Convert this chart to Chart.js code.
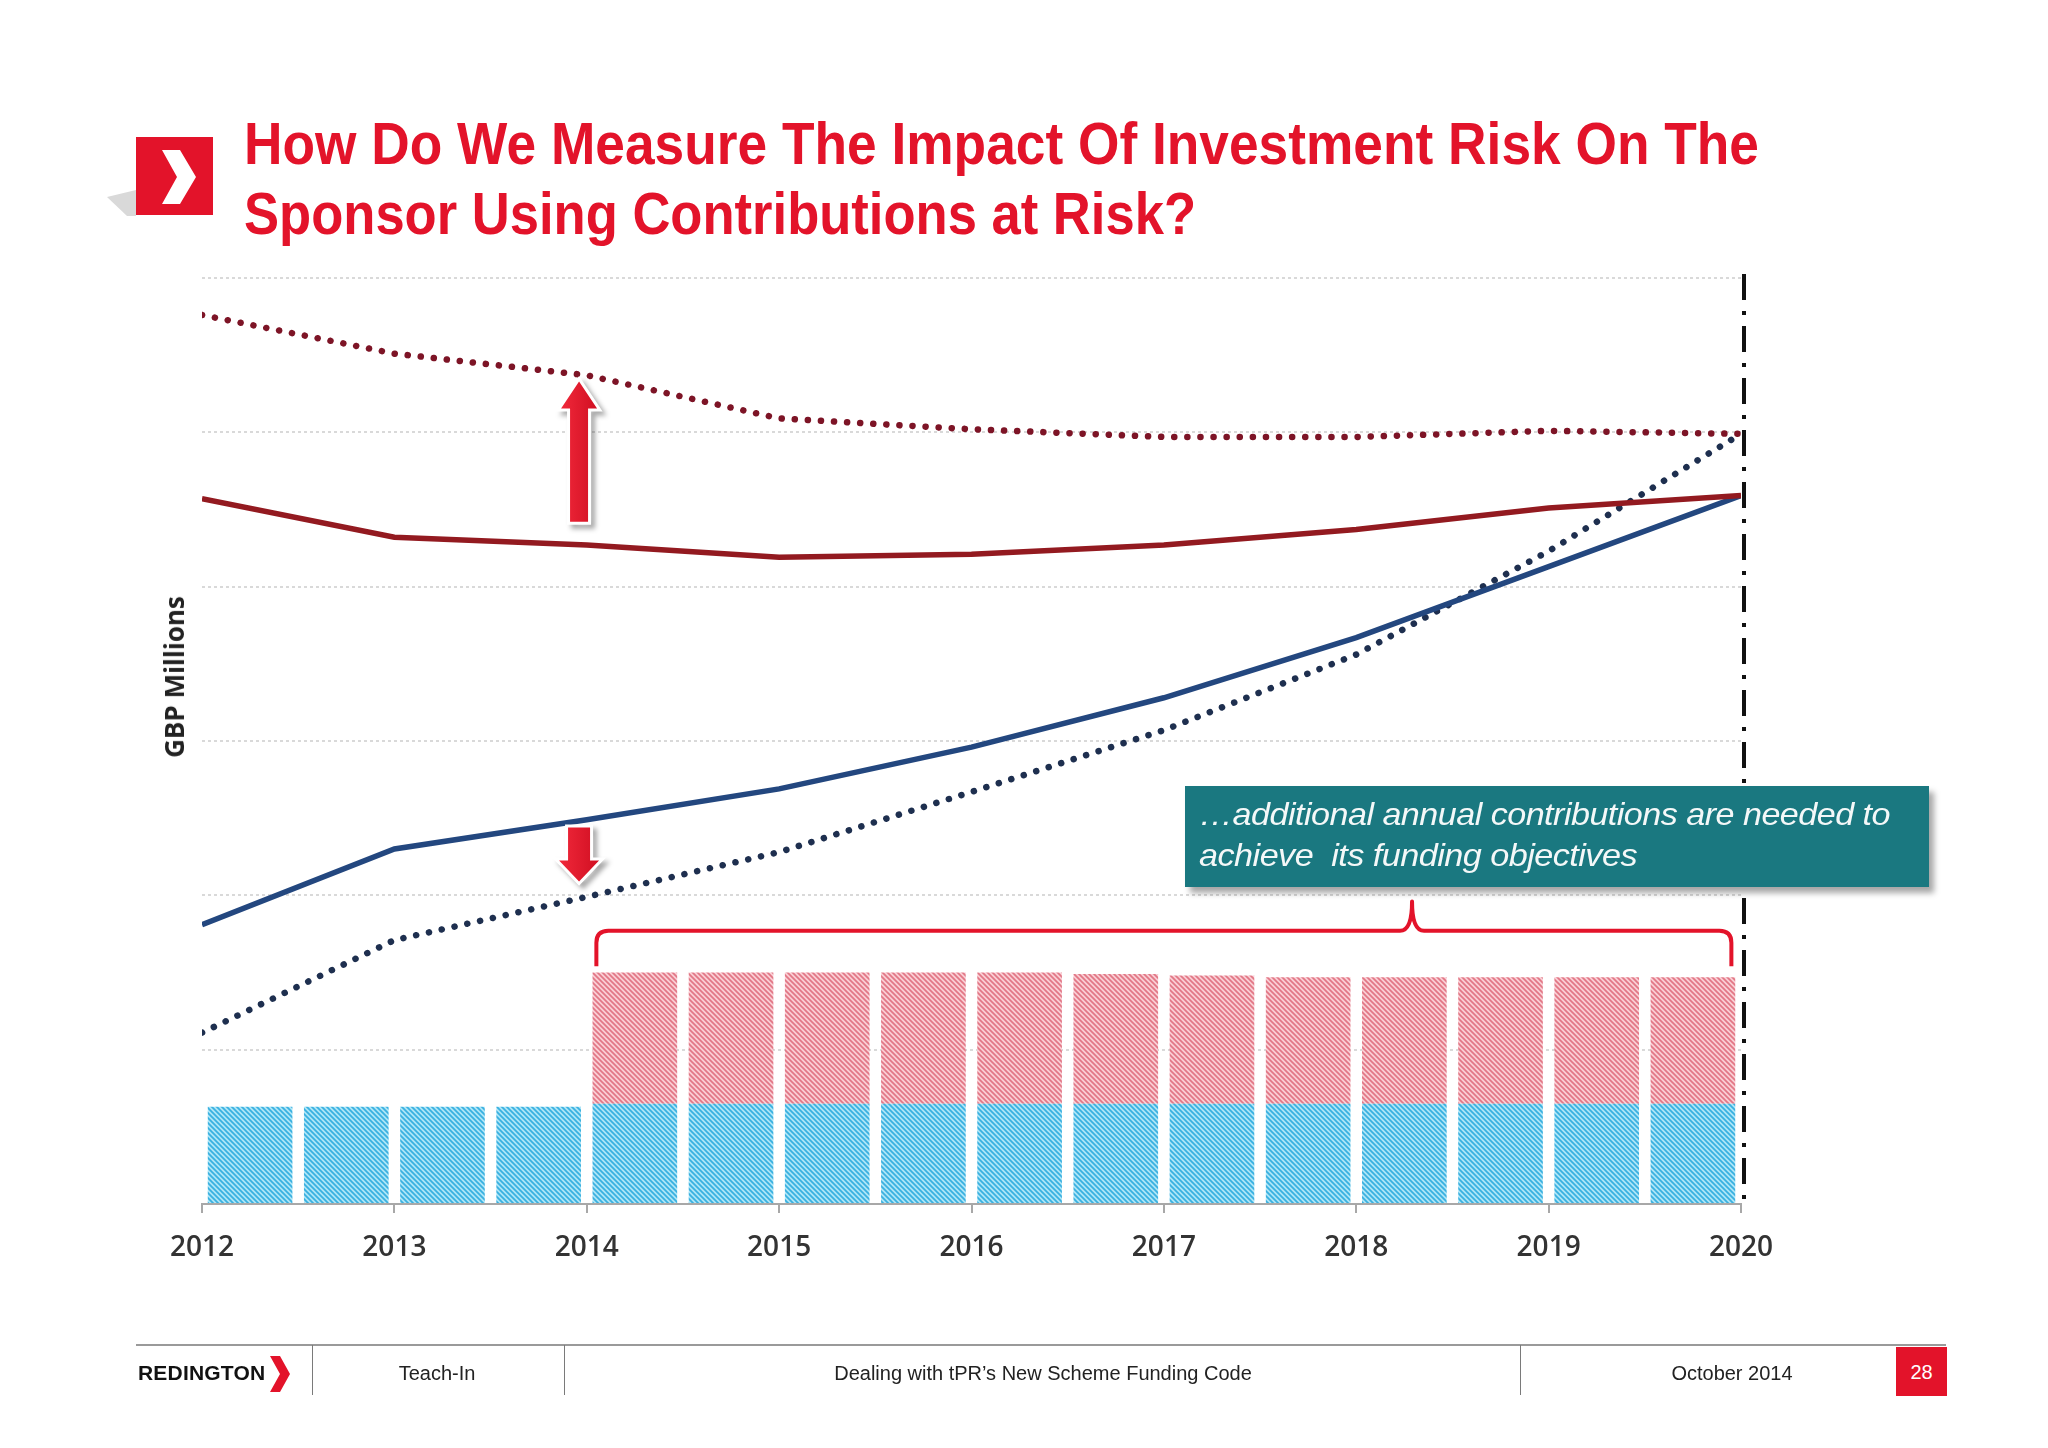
<!DOCTYPE html>
<html><head><meta charset="utf-8">
<script src="https://cdn.jsdelivr.net/npm/chart.js@4.4.1/dist/chart.umd.min.js"></script>
<style>
html,body{margin:0;padding:0;background:#fff;width:2048px;height:1448px;overflow:hidden;font-family:"Liberation Sans",Arial,sans-serif;}
#wrap{position:absolute;left:0;top:0;width:2048px;height:1448px;}
.abs{position:absolute;white-space:nowrap;}
.fit{transform-origin:0 0;}
.title{color:#e3132a;font-family:"Liberation Sans Narrow","Liberation Sans",sans-serif;font-weight:bold;font-size:60px;line-height:60px;left:244px;}
.note{position:absolute;left:1185px;top:786px;width:744px;height:101px;background:#1a7880;box-shadow:5px 6px 6px rgba(0,0,0,0.35);}
.noteTxt{color:#f4f8f8;font-family:"Liberation Sans Narrow","Liberation Sans",sans-serif;font-style:italic;font-size:32px;line-height:32px;letter-spacing:-0.5px;}
.foot{font-size:20px;line-height:20px;color:#222;top:1363px;text-align:center;}
.sep{position:absolute;top:1345px;width:1px;height:50px;background:#7a7a7a;}
</style></head>
<body>
<div id="wrap"><canvas id="c"></canvas></div>

<svg class="abs" style="left:0;top:0" width="260" height="240">
  <polygon points="107,197 136,190 136,216 127,216" fill="#d9d9d9"/>
  <rect x="136" y="137" width="77" height="78" fill="#e3132a"/>
  <polygon points="162,150 180,150 196,177 180,204 162,204 177,177" fill="#ffffff"/>
</svg>
<div class="abs title fit" data-w="1515" style="top:114px">How Do We Measure The Impact Of Investment Risk On The</div>
<div class="abs title fit" data-w="952" style="top:184px">Sponsor Using Contributions at Risk?</div>

<div class="abs" style="left:174px;top:677px;transform:translate(-50%,-50%) rotate(-90deg);font-family:'Open Sans',sans-serif;font-weight:bold;font-size:26px;color:#222;">GBP Millions</div>

<div class="note">
  <div class="abs noteTxt fit" data-w="691" style="left:14px;top:12px">…additional annual contributions are needed to</div>
  <div class="abs noteTxt fit" data-w="438" style="left:14px;top:53px">achieve&nbsp; its funding objectives</div>
</div>

<div class="abs" style="left:136px;top:1344px;width:1810px;height:2px;background:#9a9a9a"></div>
<div class="sep" style="left:312px"></div>
<div class="sep" style="left:564px"></div>
<div class="sep" style="left:1520px"></div>
<div class="abs" style="left:138px;top:1362px;font-weight:bold;font-size:21px;line-height:22px;color:#111;letter-spacing:0.2px">REDINGTON</div>
<svg class="abs" style="left:266px;top:1354px" width="28" height="42">
  <polygon points="4,2 14,2 24,20 14,38 4,38 14,20" fill="#e3132a"/>
</svg>
<div class="abs foot" style="left:337px;width:200px">Teach-In</div>
<div class="abs foot" style="left:743px;width:600px">Dealing with tPR’s New Scheme Funding Code</div>
<div class="abs foot" style="left:1632px;width:200px">October 2014</div>
<div class="abs" style="left:1896px;top:1347px;width:51px;height:49px;background:#e3132a"></div>
<div class="abs foot" style="left:1896px;width:51px;color:#fff;top:1362px">28</div>

<script>
// ---- data ----
const years = [2012, 2013, 2014, 2015, 2016, 2017, 2018, 2019, 2020];
const yearLabels = ['2012', '2013', '2014', '2015', '2016', '2017', '2018', '2019', '2020'];
const liabilitiesStress = [5.76, 5.51, 5.37, 5.09, 5.02, 4.97, 4.97, 5.01, 4.99];
const liabilities = [4.57, 4.32, 4.27, 4.19, 4.21, 4.27, 4.37, 4.51, 4.59];
const assets = [1.81, 2.30, 2.49, 2.69, 2.96, 3.28, 3.67, 4.13, 4.59];
const assetsStress = [1.11, 1.71, 1.99, 2.28, 2.67, 3.07, 3.56, 4.23, 4.99];
const barYears = [2012.25, 2012.75, 2013.25, 2013.75, 2014.25, 2014.75, 2015.25, 2015.75,
                  2016.25, 2016.75, 2017.25, 2017.75, 2018.25, 2018.75, 2019.25, 2019.75];
const baseContrib = [0.63, 0.63, 0.63, 0.63, 0.65, 0.65, 0.65, 0.65,
                     0.65, 0.65, 0.65, 0.65, 0.65, 0.65, 0.65, 0.65];
const extraContrib = [null, null, null, null, 0.85, 0.85, 0.85, 0.85,
                      0.85, 0.84, 0.83, 0.82, 0.82, 0.82, 0.82, 0.82];
// annotation anchors (in data units)
const markerYear = 2020;
const arrowYear = 2013.96;
const upArrow = [4.42, 5.33];
const downArrow = [2.44, 2.09];
const bracketYears = [2014.05, 2018.29, 2019.95];
const bracketLevels = [1.54, 1.77, 1.96];

function hatch(bg, fg) {
  const s = 5;
  const c = document.createElement('canvas'); c.width = s; c.height = s;
  const g = c.getContext('2d');
  g.fillStyle = bg; g.fillRect(0, 0, s, s);
  g.strokeStyle = fg; g.lineWidth = 1.7;
  g.beginPath();
  for (const o of [-s, 0, s]) { g.moveTo(o - 1, -1); g.lineTo(o + s + 1, s + 1); }
  g.stroke();
  return g.createPattern(c, 'repeat');
}

const overlay = {
  id: 'overlay',
  afterDatasetsDraw(chart) {
    const { ctx, chartArea } = chart;
    const x = chart.scales.x, y = chart.scales.y;
    ctx.save();
    // vertical dash-dot marker
    const vx = x.getPixelForValue(markerYear) + 3;
    ctx.strokeStyle = '#111'; ctx.lineWidth = 4; ctx.setLineDash([26, 11, 4, 11]);
    ctx.beginPath(); ctx.moveTo(vx, chartArea.top - 4); ctx.lineTo(vx, chartArea.bottom - 2); ctx.stroke();
    ctx.setLineDash([]);
    // bracket
    const xl = x.getPixelForValue(bracketYears[0]), xm = x.getPixelForValue(bracketYears[1]), xr = x.getPixelForValue(bracketYears[2]);
    const ye = y.getPixelForValue(bracketLevels[0]), yh = y.getPixelForValue(bracketLevels[1]), yp = y.getPixelForValue(bracketLevels[2]);
    const r = 12;
    ctx.strokeStyle = '#e3132a'; ctx.lineWidth = 4; ctx.lineJoin = 'round';
    ctx.beginPath();
    ctx.moveTo(xl, ye);
    ctx.lineTo(xl, yh + r);
    ctx.quadraticCurveTo(xl, yh, xl + r, yh);
    ctx.lineTo(xm - r, yh);
    ctx.quadraticCurveTo(xm, yh, xm, yp);
    ctx.quadraticCurveTo(xm, yh, xm + r, yh);
    ctx.lineTo(xr - r, yh);
    ctx.quadraticCurveTo(xr, yh, xr, yh + r);
    ctx.lineTo(xr, ye);
    ctx.stroke();
    // arrows
    const ax = x.getPixelForValue(arrowYear);
    function arrow(yFrom, yTo, shaftW, headW, headH) {
      const dir = yTo < yFrom ? -1 : 1;
      const yb = yTo - dir * headH;
      ctx.beginPath();
      ctx.moveTo(ax - shaftW / 2, yFrom);
      ctx.lineTo(ax - shaftW / 2, yb);
      ctx.lineTo(ax - headW / 2, yb);
      ctx.lineTo(ax, yTo);
      ctx.lineTo(ax + headW / 2, yb);
      ctx.lineTo(ax + shaftW / 2, yb);
      ctx.lineTo(ax + shaftW / 2, yFrom);
      ctx.closePath();
      ctx.save();
      ctx.shadowColor = 'rgba(0,0,0,0.35)'; ctx.shadowBlur = 5; ctx.shadowOffsetX = 4; ctx.shadowOffsetY = 4;
      ctx.strokeStyle = '#ffffff'; ctx.lineWidth = 6; ctx.lineJoin = 'miter';
      ctx.stroke();
      ctx.restore();
      const grd = ctx.createLinearGradient(ax - headW / 2, 0, ax + headW / 2, 0);
      grd.addColorStop(0, '#f0283a'); grd.addColorStop(1, '#d10f22');
      ctx.fillStyle = grd; ctx.fill();
    }
    arrow(y.getPixelForValue(upArrow[0]), y.getPixelForValue(upArrow[1]), 18, 36, 27);
    arrow(y.getPixelForValue(downArrow[0]), y.getPixelForValue(downArrow[1]), 22, 40, 21);
    ctx.restore();
  }
};

const pts = arr => years.map((yr, i) => ({ x: yr, y: arr[i] }));
const bpts = arr => barYears.map((yr, i) => ({ x: yr, y: arr[i] }));

const lineBase = { type: 'line', yAxisID: 'y2', pointRadius: 0, tension: 0, fill: false, order: 0 };
const dotted = { borderWidth: 6.5, borderDash: [0.1, 13], borderCapStyle: 'round' };

new Chart(document.getElementById('c'), {
  data: {
    datasets: [
      Object.assign({}, lineBase, dotted, { label: 'Liabilities (stress)', data: pts(liabilitiesStress), borderColor: '#7d1426' }),
      Object.assign({}, lineBase, { label: 'Liabilities', data: pts(liabilities), borderColor: '#931a20', borderWidth: 5.5 }),
      Object.assign({}, lineBase, { label: 'Assets', data: pts(assets), borderColor: '#23477f', borderWidth: 5.5 }),
      Object.assign({}, lineBase, dotted, { label: 'Assets (stress)', data: pts(assetsStress), borderColor: '#1e2f4f' }),
      { type: 'bar', label: 'Contributions', data: bpts(baseContrib), yAxisID: 'y', order: 1,
        backgroundColor: hatch('#ade5f6', '#38b0e0'), borderWidth: 0, categoryPercentage: 1, barPercentage: 0.88 },
      { type: 'bar', label: 'Additional contributions', data: bpts(extraContrib), yAxisID: 'y', order: 1,
        backgroundColor: hatch('#f9ced4', '#e27685'), borderWidth: 0, categoryPercentage: 1, barPercentage: 0.88 }
    ]
  },
  options: {
    responsive: true, maintainAspectRatio: false, animation: false,
    layout: { padding: { left: 202, right: 307, top: 278, bottom: 184 } },
    plugins: { legend: { display: false }, tooltip: { enabled: false } },
    scales: {
      x: {
        type: 'linear', min: 2012, max: 2020, stacked: true, offset: false,
        afterFit: s => { s.height = 60; },
        ticks: { stepSize: 1, autoSkip: false, maxRotation: 0, padding: 18,
          callback: (v, i) => yearLabels[i],
          font: { family: 'Open Sans', weight: '600', size: 28 }, color: '#333' },
        grid: { offset: false, drawOnChartArea: false, drawTicks: true, tickLength: 9, color: '#a8a8a8', lineWidth: 2 },
        border: { display: true, color: '#a8a8a8', width: 2 }
      },
      y: {
        min: 0, max: 6, stacked: true,
        afterFit: s => { s.width = 0; },
        ticks: { display: false, stepSize: 1 },
        grid: { drawTicks: false, color: '#d9d9d9', lineWidth: 2 },
        border: { display: false, dash: [3, 3] }
      },
      y2: { min: 0, max: 6, display: false }
    }
  },
  plugins: [overlay]
});

function fitAll() {
  document.querySelectorAll('[data-w]').forEach(el => {
    el.style.transform = 'none';
    const w = el.getBoundingClientRect().width;
    const target = +el.dataset.w;
    if (w > 0) el.style.transform = 'scaleX(' + (target / w) + ')';
  });
}
fitAll();
if (document.fonts && document.fonts.ready) document.fonts.ready.then(fitAll);
</script>
</body></html>
